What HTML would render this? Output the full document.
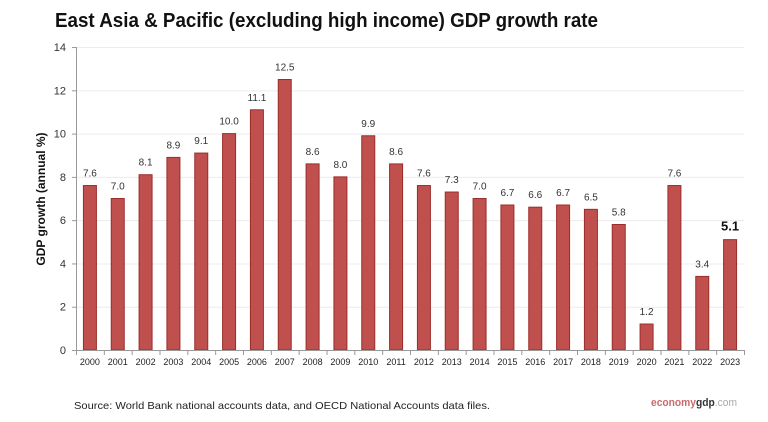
<!DOCTYPE html>
<html><head><meta charset="utf-8"><style>
html,body{margin:0;padding:0;background:#fff;}
svg{display:block;font-family:"Liberation Sans",sans-serif;}
</style></head><body>
<svg width="768" height="422" viewBox="0 0 768 422" xmlns="http://www.w3.org/2000/svg">
<rect width="768" height="422" fill="#fff"/>
<text x="55" y="27" font-size="20" font-weight="bold" fill="#111" textLength="543" lengthAdjust="spacingAndGlyphs">East Asia &amp; Pacific (excluding high income) GDP growth rate</text>
<g id="grid" stroke="#ececec" stroke-width="1"></g>
<g id="bars"></g>
<line x1="76.5" y1="47" x2="76.5" y2="351" stroke="#999"/>
<line x1="76" y1="350.5" x2="744" y2="350.5" stroke="#999"/>
<g id="ax" font-size="11" fill="#333"></g>
<text transform="translate(45,199) rotate(-90)" text-anchor="middle" font-size="12" font-weight="bold" fill="#111">GDP growth (annual %)</text>
<text x="74" y="409" font-size="10.5" fill="#222" textLength="416" lengthAdjust="spacingAndGlyphs">Source:  World Bank national accounts data, and OECD National Accounts data files.</text>
<text x="651" y="406" font-size="11" font-weight="bold" textLength="86" lengthAdjust="spacingAndGlyphs"><tspan fill="#c96a6a">economy</tspan><tspan fill="#333">gdp</tspan><tspan fill="#aaa" font-weight="normal">.com</tspan></text>
<script>
var vals=[7.6,7.0,8.1,8.9,9.1,10.0,11.1,12.5,8.6,8.0,9.9,8.6,7.6,7.3,7.0,6.7,6.6,6.7,6.5,5.8,1.2,7.6,3.4,5.1];
var y0=350,k=21.64,x0=76,w=668/24,ns="http://www.w3.org/2000/svg";
function el(n,a,p,t){var e=document.createElementNS(ns,n);for(var q in a)e.setAttribute(q,a[q]);if(t!==undefined)e.textContent=t;document.getElementById(p).appendChild(e);return e;}
for(var i=0;i<=14;i+=2){var y=y0-i*k;if(i>0)el('line',{x1:77,x2:744,y1:y+0.5,y2:y+0.5},'grid');
el('text',{x:66,y:y+4,'text-anchor':'end'},'ax',i);el('line',{x1:72,x2:76,y1:y+0.5,y2:y+0.5,stroke:'#999'},'ax');}
for(var i=0;i<24;i++){var c=x0+w*(i+0.5),h=vals[i]*k;
el('rect',{x:c-6.5,y:y0-h,width:13,height:h,fill:'#c0504d',stroke:'#9b2d2a','stroke-width':1},'bars');
var last=i==23;
el('text',{x:c,y:y0-h-(last?9:9),'text-anchor':'middle','font-size':last?13:10,'font-weight':last?'bold':'normal',fill:last?'#111':'#333'},'ax',vals[i].toFixed(1));
el('text',{x:c,y:365,'text-anchor':'middle','font-size':9,fill:'#222'},'ax',2000+i);
el('line',{x1:x0+w*i+0.5,x2:x0+w*i+0.5,y1:350,y2:355,stroke:'#999'},'ax');}
el('line',{x1:744.5,x2:744.5,y1:350,y2:355,stroke:'#999'},'ax');
</script>
</svg>
</body></html>
